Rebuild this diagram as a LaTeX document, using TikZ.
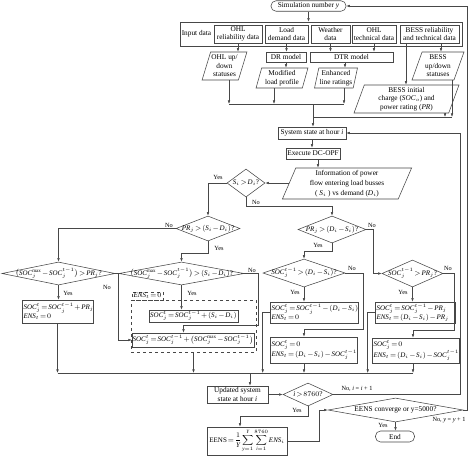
\documentclass[tikz,border=0pt]{standalone}
\usepackage{amsmath}
\usepackage{fontspec}
\setmainfont{Liberation Serif}
\usetikzlibrary{shapes.geometric,arrows.meta}
\newcommand\myv[1]{\textit{#1}}
\begin{document}
\thinmuskip=2mu
\medmuskip=1.5mu
\thickmuskip=2mu
\begin{tikzpicture}[x=1pt,y=-1pt,
  every node/.style={font=\fontsize{7.3}{8.6}\selectfont, inner sep=0.5pt, text=black},
  ln/.style={draw=black!72, line width=0.55pt},
  arr/.style={ln, -{Latex[length=3.6pt,width=2.6pt]}},
  bx/.style={ln, rectangle, align=center},
  lbx/.style={ln, rectangle, align=left, inner xsep=1.5pt, inner ysep=1pt, font=\fontsize{7}{9}\selectfont},
  fbx/.style={ln, rectangle, align=center, font=\fontsize{7}{8.5}\selectfont},
  term/.style={ln, rectangle, rounded corners=5pt, align=center},
  para/.style={ln, trapezium, trapezium left angle=70, trapezium right angle=110, trapezium stretches=true, align=center, inner sep=0pt},
  dia/.style={ln, diamond, inner sep=0pt},
  dtx/.style={font=\fontsize{7}{8}\selectfont},
  yn/.style={font=\fontsize{6.3}{7}\selectfont, inner sep=0.3pt},
]
\useasboundingbox (0,0) rectangle (474,456);
% top
\node[term, minimum width=75, minimum height=10.5] (sim) at (308.5,6) {Simulation number \myv{y}};
\node[bx, minimum width=282, minimum height=24] (inp) at (321,34) {};
\node (inpl) at (196.5,34) {Input data};
\node[bx, minimum width=48, minimum height=18] (ohlrel) at (238,34) {OHL\\reliability data};
\node[bx, minimum width=43, minimum height=18] (load) at (286.5,34) {Load\\demand data};
\node[bx, minimum width=39, minimum height=18] (weather) at (330.5,34) {Weather\\data};
\node[bx, minimum width=44, minimum height=18] (ohltech) at (374,34) {OHL\\technical data};
\node[bx, minimum width=59, minimum height=18] (bessrel) at (429.5,34) {BESS reliability\\and technical data};
% level 2
\node[para, minimum width=45, minimum height=28] (ohlup) at (224.5,66) {OHL up/\\down\\statuses};
\node[bx, minimum width=40, minimum height=10] (dr) at (286,57) {DR model};
\node[bx, minimum width=83, minimum height=10] (dtr) at (351.5,57) {DTR model};
\node[para, minimum width=52, minimum height=28] (bessup) at (438,66) {BESS\\up/down\\statuses};
\node[para, trapezium left angle=73, trapezium right angle=107, minimum width=52, minimum height=20] (modload) at (282,78) {Modified\\load profile};
\node[para, trapezium left angle=75, trapezium right angle=105, minimum width=43, minimum height=20] (enh) at (336,78) {Enhanced\\line ratings};
\node[para, trapezium left angle=74, trapezium right angle=106, minimum width=105, minimum height=28] (bessinit) at (406.5,99) {BESS initial\\charge (\myv{SOC}$_o$) and\\power rating (\myv{PR})};
% system
\node[bx, minimum width=68, minimum height=12] (sys) at (312,133) {System state at hour \myv{i}};
\node[bx, minimum width=54, minimum height=11] (opf) at (313,153.5) {Execute DC-OPF};
\node[para, minimum width=130, minimum height=31, font=\fontsize{7.3}{10}\selectfont] (info) at (347,183.5) {Information of power\\flow entering load busses\\( \myv{S}$_i$ ) vs demand (\myv{D}$_i$)};
% diamonds
\node[dia, minimum width=38, minimum height=28] (s1) at (246,183) {};
\node[dtx] (s1t) at (s1) {$\myv{S}_i>\myv{D}_i$?};
\node[dia, minimum width=64, minimum height=25] (pr1) at (208,228.5) {};
\node[dtx] (pr1t) at (pr1) {$\myv{PR}_j>(\myv{S}_i-\myv{D}_i)$?};
\node[dia, minimum width=68, minimum height=27] (pr2) at (332,229.5) {};
\node[dtx] (pr2t) at (pr2) {$\myv{PR}_j>(\myv{D}_i-\myv{S}_i)$?};
\node[dia, minimum width=113, minimum height=23] (soc1) at (58.5,273.5) {};
\node[dtx] (soc1t) at (soc1) {$\bigl(\myv{SOC}_j^{\max}-\myv{SOC}_j^{t-1}\bigr)>\myv{PR}_j$?};
\node[dia, minimum width=125, minimum height=23] (soc2) at (181.5,273.5) {};
\node[dtx] (soc2t) at (soc2) {$\bigl(\myv{SOC}_j^{\max}-\myv{SOC}_j^{t-1}\bigr)>(\myv{S}_i-\myv{D}_i)$?};
\node[dia, minimum width=82, minimum height=28] (soc3) at (304,273) {};
\node[dtx] (soc3t) at (soc3) {$\myv{SOC}_j^{t-1}>(\myv{D}_i-\myv{S}_i)$?};
\node[dia, minimum width=61, minimum height=27] (soc4) at (412.5,273.5) {};
\node[dtx] (soc4t) at (soc4) {$\myv{SOC}_j^{t-1}>\myv{PR}_j$?};
% boxes
\node[lbx, text width=68, minimum height=23] (boxA) at (57.5,311.5) {\mbox{$\myv{SOC}_j^t=\myv{SOC}_j^{t-1}+\myv{PR}_j$}\\\mbox{$\myv{ENS}_t=0$}};
\node[ln, dashed, rectangle, minimum width=125, minimum height=52] (dash) at (193.5,326) {};
\node[ln, dashed, rectangle, minimum width=31, minimum height=8, font=\fontsize{7}{8}\selectfont] (enstab) at (147.5,296) {$\myv{ENS}_t=0$};
\node[fbx, minimum width=89, minimum height=12] (boxF) at (193.5,316) {$\myv{SOC}_j^t=\myv{SOC}_j^{t-1}+(\myv{S}_i-\myv{D}_i)$};
\node[fbx, minimum width=120, minimum height=14] (boxG) at (193,340) {$\myv{SOC}_j^t=\myv{SOC}_j^{t-1}+\bigl(\myv{SOC}_j^{\max}-\myv{SOC}_j^{t-1}\bigr)$};
\node[lbx, text width=85, minimum height=21] (boxB) at (314,312.5) {\mbox{$\myv{SOC}_j^t=\myv{SOC}_j^{t-1}-(\myv{D}_i-\myv{S}_i)$}\\\mbox{$\myv{ENS}_t=0$}};
\node[lbx, text width=84, minimum height=26] (boxC) at (313.5,350) {\mbox{$\myv{SOC}_j^t=0$}\\\mbox{$\myv{ENS}_t=(\myv{D}_i-\myv{S}_i)-\myv{SOC}_j^{t-1}$}};
\node[lbx, text width=77, minimum height=21] (boxD) at (415,312.5) {\mbox{$\myv{SOC}_j^t=\myv{SOC}_j^{t-1}-\myv{PR}_j$}\\\mbox{$\myv{ENS}_t=(\myv{D}_i-\myv{S}_i)-\myv{PR}_j$}};
\node[lbx, text width=84, minimum height=25] (boxE) at (415.5,350.5) {\mbox{$\myv{SOC}_j^t=0$}\\\mbox{$\myv{ENS}_t=(\myv{D}_i-\myv{S}_i)-\myv{SOC}_j^{t-1}$}};
% bottom
\node[bx, minimum width=61, minimum height=17] (upd) at (237.5,394.5) {Updated system\\state at hour \myv{i}};
\node[dia, minimum width=50, minimum height=23] (i87) at (308,394.5) {};
\node (i87t) at (i87) {$\myv{i}>8760$?};
\node[fbx, minimum width=80, minimum height=28] (eens) at (247,441) {$\displaystyle\text{EENS}=\frac{1}{\myv{Y}}\sum_{\myv{y}=1}^{\myv{Y}}\sum_{\myv{i}=1}^{8760}\myv{ENS}_i$};
\node[dia, minimum width=135, minimum height=24] (conv) at (395.5,410) {};
\node (convt) at (conv) {EENS converge or y=5000?};
\node[term, minimum width=39, minimum height=11] (end) at (395,436.5) {End};
% connectors top
\draw[arr] (sim.south) -- (sim.south |- inp.north);
\draw[arr] (ohlrel.south) -- (ohlrel.south |- ohlup.north);
\draw[arr] (load.south) -- (load.south |- dr.north);
\draw[arr] (dr.south) -- (dr.south |- modload.north);
\draw[arr] (weather.south) -- (weather.south |- dtr.north);
\draw[arr] (ohltech.south) -- (ohltech.south |- dtr.north);
\draw[arr] ([xshift=-6.5]dtr.south) -- ([xshift=-6.5]dtr.south |- enh.north);
\draw[arr] ([xshift=11.5]bessrel.south) -- ([xshift=11.5]bessrel.south |- bessup.north);
\draw[arr] ([xshift=-23.5]bessrel.south) -- ([xshift=-23.5]bessrel.south |- bessinit.north);
% merge
\coordinate (mA) at (229,104);
\coordinate (mM) at (274,104);
\coordinate (mB) at (344,104);
\coordinate (mC) at (313,104);
\draw[arr] (mA |- ohlup.south) -- (mA);
\draw[arr] (mM |- modload.south) -- (mM);
\draw[arr] (mB |- enh.south) -- (mB);
\draw[ln] (mA) -- (mB);
\draw[arr] (mC) -- (mC |- sys.north);
\coordinate (bA) at (452,117);
\coordinate (bB) at (445,117);
\draw[arr] (bA |- bessup.south) -- (bA);
\draw[arr] (bB |- bessinit.south) -- (bB);
\draw[ln] (bA) -- (bA -| mC);
% system flow
\draw[arr] (sys.south) -- (sys.south |- opf.north);
\draw[arr] ([xshift=5]opf.south) -- ([xshift=5]opf.south |- info.north);
\draw[arr] (s1.east -| info.west) -- (s1.east);
\draw[arr] (s1.west) -| (pr1.north);
\draw[arr] (s1.south) -- ++(0,9) -| (pr2.north);
\draw[arr] (pr1.west) -| (soc1.north);
\draw[arr] (pr1.south) -- ++(0,12) -| (soc2.north);
\draw[arr] (pr2.south) -- ++(0,8) -| (soc3.north);
\draw[arr] (pr2.east) -- ++(7,0) |- (soc4.west);
\draw[arr] (soc1.south) -- (soc1.south |- boxA.north);
\draw[arr] (soc1.east) -- ++(2.5,0) |- (boxG.west);
\draw[arr] (soc2.south) -- (soc2.south |- boxF.north);
\draw[arr] (soc2.east) -- ++(14,0) -- ++(0,52) -| ([xshift=-9.5]boxG.north);
\draw[arr] (soc3.south) -- (soc3.south |- boxB.north);
\draw[arr] (soc3.east) -- ++(18,0) -- ++(0,56) -| ([xshift=-9.5]boxC.north);
\draw[arr] (soc4.south) -- (soc4.south |- boxD.north);
\draw[arr] (soc4.east) -- ++(11,0) -- ++(0,56.5) -| ([xshift=-2.5]boxE.north);
% collect
\coordinate (cL) at (57.5,373);
\coordinate (cR) at (413,373);
\draw[ln] (cL) -- (cR);
\draw[arr] (boxA.south) -- (boxA.south |- cL);
\draw[arr] (dash.south) -- (dash.south |- cL);
\draw[arr] (boxB.west) -- ++(-7,0) -- ++(0,60.5);
\draw[arr] ([xshift=-9.5]boxC.south) -- ([xshift=-9.5]boxC.south |- cL);
\draw[arr] (boxD.west) -- ++(-7,0) -- ++(0,60.5);
\draw[arr] ([xshift=-2.5]boxE.south) -- ([xshift=-2.5]boxE.south |- cL);
\draw[arr] ([xshift=12.5]upd.north |- cL) -- ([xshift=12.5]upd.north);
% bottom flow
\draw[arr] (upd.east) -- (i87.west);
\draw[arr] (i87.east) -- ++(127,0) |- (sys.east);
\draw[arr] (i87.south) -- ++(0,10) -| ([xshift=-7]eens.north);
\draw[arr] (eens.east) -- ++(32,0) |- (conv.west);
\draw[arr] (conv.east) -- ++(4,0) |- (sim.east);
\draw[arr] (conv.south) -- (conv.south |- end.north);
% labels
\node[yn] (l1) at (218,177) {Yes};
\node[yn] (l2) at (256,202) {No};
\node[yn] (l3) at (169,225) {No};
\node[yn] (l4) at (219,248) {Yes};
\node[yn] (l5) at (68,293) {Yes};
\node[yn] (l6) at (107,287) {No};
\node[yn] (l7) at (192,293) {Yes};
\node[yn] (l8) at (252,270) {No};
\node[yn] (l9) at (318,245) {Yes};
\node[yn] (l10) at (372,225) {No};
\node[yn] (l11) at (295,292) {Yes};
\node[yn] (l12) at (352,268) {No};
\node[yn] (l13) at (403,292) {Yes};
\node[yn] (l14) at (448,268) {No};
\node[yn] (l15) at (357,389) {No, \myv{i} = \myv{i} + 1};
\node[yn] (l16) at (297,410) {Yes};
\node[yn] (l17) at (449,420) {No, \myv{y} = \myv{y} + 1};
\node[yn] (l18) at (383,425) {Yes};
\end{tikzpicture}
\end{document}
